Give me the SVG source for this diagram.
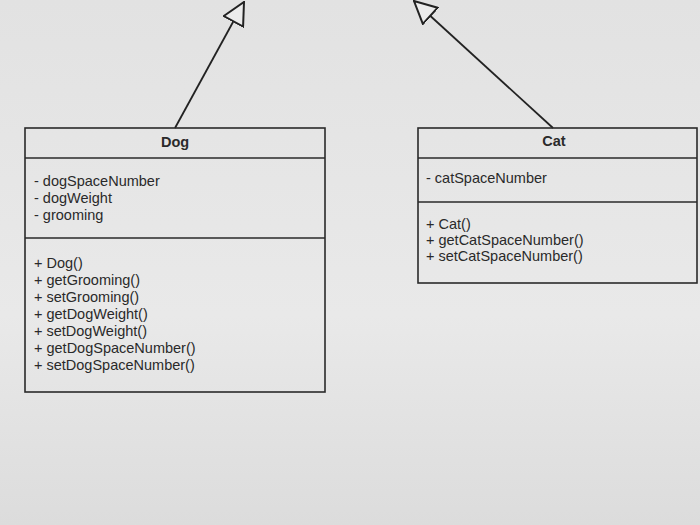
<svg xmlns="http://www.w3.org/2000/svg" width="700" height="525" viewBox="0 0 700 525">
<defs>
<linearGradient id="bg" x1="0" y1="0" x2="0" y2="1">
<stop offset="0" stop-color="#e2e2e2"/><stop offset="0.6" stop-color="#e9e9e9"/><stop offset="1" stop-color="#dcdcdc"/>
</linearGradient>
<marker id="tri" viewBox="0 0 24 24" refX="23" refY="12" markerWidth="24" markerHeight="24" markerUnits="userSpaceOnUse" orient="auto">
<path d="M1,1 L23,12 L1,23 Z" fill="#ececec" stroke="#222" stroke-width="2"/>
</marker>
<style>
.box{fill:none;stroke:#2a2a2a;stroke-width:1.6}
.t{font-family:"Liberation Sans",Arial,sans-serif;font-size:14.5px;fill:#2a2a2a}
.h{font-weight:bold;text-anchor:middle}
</style>
</defs>
<rect width="700" height="525" fill="url(#bg)"/>
<g id="connectors" stroke="#222" stroke-width="1.8" fill="none">
<line x1="175" y1="128" x2="244" y2="2" marker-end="url(#tri)"/>
<line x1="553" y1="128" x2="414" y2="1" marker-end="url(#tri)"/>
</g>
<g id="dog">
<rect class="box" x="25" y="128" width="300" height="264"/>
<line class="box" x1="25" y1="158" x2="325" y2="158"/>
<line class="box" x1="25" y1="238" x2="325" y2="238"/>
<text class="t h" x="175" y="147">Dog</text>
<text class="t" x="34" y="186">- dogSpaceNumber</text>
<text class="t" x="34" y="203">- dogWeight</text>
<text class="t" x="34" y="220">- grooming</text>
<text class="t" x="34" y="268">+ Dog()</text>
<text class="t" x="34" y="285">+ getGrooming()</text>
<text class="t" x="34" y="302">+ setGrooming()</text>
<text class="t" x="34" y="319">+ getDogWeight()</text>
<text class="t" x="34" y="336">+ setDogWeight()</text>
<text class="t" x="34" y="353">+ getDogSpaceNumber()</text>
<text class="t" x="34" y="370">+ setDogSpaceNumber()</text>
</g>
<g id="cat">
<rect class="box" x="418" y="128" width="279" height="155"/>
<line class="box" x1="418" y1="158" x2="697" y2="158"/>
<line class="box" x1="418" y1="202" x2="697" y2="202"/>
<text class="t h" x="554" y="146">Cat</text>
<text class="t" x="426" y="183">- catSpaceNumber</text>
<text class="t" x="426" y="229">+ Cat()</text>
<text class="t" x="426" y="245">+ getCatSpaceNumber()</text>
<text class="t" x="426" y="261">+ setCatSpaceNumber()</text>
</g>
</svg>
